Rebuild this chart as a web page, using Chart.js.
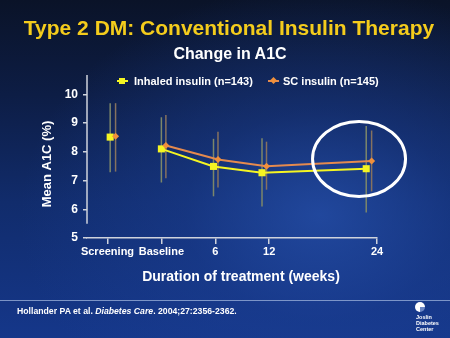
<!DOCTYPE html>
<html>
<head>
<meta charset="utf-8">
<script src="https://cdn.jsdelivr.net/npm/chart.js@4.4.1/dist/chart.umd.min.js"></script>
<style>
html,body{margin:0;padding:0}
body{
width:450px;height:338px;overflow:hidden;position:relative;
font-family:"Liberation Sans",Arial,sans-serif;font-weight:bold;color:#fff;
background:
radial-gradient(ellipse 300px 230px at 320px 215px,rgba(38,80,172,0.75) 0%,rgba(28,64,150,0.45) 45%,rgba(20,50,120,0) 100%),
linear-gradient(180deg,#0a1328 0%,#0d1d45 28%,#112c6c 60%,#15378a 100%);
}
#chart{position:absolute;left:0;top:0}
.txt{position:absolute;white-space:nowrap}
#title{left:0;width:458px;text-align:center;top:17px;font-size:21px;line-height:21px;color:#f4cc1c}
#subtitle{left:0;width:460px;text-align:center;top:46px;font-size:16px;line-height:16px}
.leg{top:76px;font-size:11px;line-height:11px}
.legLine{position:absolute;height:2px;width:11px}
.legMark{position:absolute}
#xTitle{left:16px;width:450px;text-align:center;top:269px;font-size:14px;line-height:14px}
#rule{position:absolute;left:0;top:300px;width:450px;height:1px;background:rgba(150,172,215,0.8)}
#ref{left:17px;top:307px;font-size:8.7px;line-height:9px}
#logo{position:absolute;left:415px;top:302px;width:10px;height:10px;border-radius:50%;
background:conic-gradient(from 90deg,#6b86c4 0deg 90deg,#fff 90deg 360deg)}
.logoTxt{left:416px;font-size:5.5px;line-height:5.5px}
</style>
</head>
<body>

<canvas id="chart" width="450" height="338"></canvas>

<div class="txt" id="title">Type 2 DM: Conventional Insulin Therapy</div>
<div class="txt" id="subtitle">Change in A1C</div>

<div class="legLine" style="left:117px;top:80px;background:#f5f522"></div>
<div class="legMark" style="left:119px;top:78px;width:6px;height:6px;background:#f5f522"></div>
<div class="txt leg" style="left:134px">Inhaled insulin (n=143)</div>

<div class="legLine" style="left:268px;top:80px;background:#e58a4e"></div>
<div class="legMark" style="left:271px;top:78px;width:5px;height:5px;background:#f0903c;transform:rotate(45deg)"></div>
<div class="txt leg" style="left:283px">SC insulin (n=145)</div>

<div class="txt" id="xTitle">Duration of treatment (weeks)</div>

<div id="rule"></div>
<div class="txt" id="ref">Hollander PA et al. <i>Diabetes Care</i>. 2004;27:2356-2362.</div>
<div id="logo"></div>
<div class="txt logoTxt" style="top:315px">Joslin</div>
<div class="txt logoTxt" style="top:321px">Diabetes</div>
<div class="txt logoTxt" style="top:327px">Center</div>

<script>

// x axis: weeks of treatment, screening sits 6 weeks before baseline
const tickWeeks = [-6, 0, 6, 12, 24]
const tickLabels = ["Screening", "Baseline", "6", "12", "24"]
const yTicks = [5, 6, 7, 8, 9, 10]

// inhaled insulin group: where each mean sits, mean A1C and the bar ends
const inhaledWeeks = [-5.7, 0, 5.8, 11.2, 22.8]
const inhaledMean = [8.51, 8.10, 7.49, 7.27, 7.41]
const inhaledHigh = [9.69, 9.20, 8.45, 8.47, 8.90]
const inhaledLow = [7.29, 6.93, 6.45, 6.10, 5.89]

// subcutaneous insulin group
const scWeeks = [-5.1, 0.5, 6.3, 11.7, 23.4]
const scMean = [8.54, 8.22, 7.73, 7.50, 7.68]
const scHigh = [9.69, 9.28, 8.70, 8.35, 8.74]
const scLow = [7.31, 7.08, 6.76, 6.68, 6.62]

const font = "'Liberation Sans', Arial, sans-serif"
const axisColor = "#cfd3dc"
const yTitle = "Mean A1C (%)"

// highlight ring around week 24
const ring = {week: 22, value: 7.75, rx: 46.5, ry: 37.5}

// the y axis line stops short of the x axis
const yLineEnd = 5.5


function points(xs, ys){
return xs.map((x, i) => ({x: x, y: ys[i]}))
}


const errorBars = {
id: "errorBars",
beforeDatasetsDraw(chart){
const ctx = chart.ctx
const xs = chart.scales.x
const ys = chart.scales.y
chart.data.datasets.forEach(ds => {
ctx.save()
ctx.strokeStyle = ds.errorColor
ctx.lineWidth = 1.5
ds.data.forEach((p, i) => {
const px = xs.getPixelForValue(p.x)
ctx.beginPath()
ctx.moveTo(px, ys.getPixelForValue(ds.high[i]))
ctx.lineTo(px, ys.getPixelForValue(ds.low[i]))
ctx.stroke()
})
ctx.restore()
})
}
}

const extras = {
id: "extras",
afterDraw(chart){
const ctx = chart.ctx
const xs = chart.scales.x
const ys = chart.scales.y
const area = chart.chartArea

ctx.save()
ctx.strokeStyle = axisColor
ctx.lineWidth = 1.5
ctx.beginPath()
ctx.moveTo(area.left, ys.getPixelForValue(ys.max))
ctx.lineTo(area.left, ys.getPixelForValue(yLineEnd))
ctx.stroke()

ctx.strokeStyle = "#ffffff"
ctx.lineWidth = 3
ctx.beginPath()
ctx.ellipse(xs.getPixelForValue(ring.week), ys.getPixelForValue(ring.value), ring.rx, ring.ry, 0, 0, Math.PI * 2)
ctx.stroke()

// y axis title, set a little below the middle of the axis
ctx.translate(51, 164)
ctx.rotate(-Math.PI / 2)
ctx.fillStyle = "#ffffff"
ctx.font = "bold 13px " + font
ctx.textAlign = "center"
ctx.textBaseline = "alphabetic"
ctx.fillText(yTitle, 0, 0)
ctx.restore()
}
}

// no line between screening and baseline
const skipFirst = c => c.p0DataIndex === 0 ? "rgba(0,0,0,0)" : undefined


new Chart(document.getElementById("chart"), {

type: "line",

data: {
datasets: [
{
label: "Inhaled insulin (n=143)",
data: points(inhaledWeeks, inhaledMean),
high: inhaledHigh,
low: inhaledLow,
errorColor: "#7c876a",
borderColor: "#f5f522",
backgroundColor: "#f5f522",
borderWidth: 2,
pointStyle: "rect",
pointRadius: 5,
pointBorderWidth: 0,
segment: {borderColor: skipFirst},
order: 1
},
{
label: "SC insulin (n=145)",
data: points(scWeeks, scMean),
high: scHigh,
low: scLow,
errorColor: "#86725f",
borderColor: "#e58a4e",
backgroundColor: "#f0903c",
borderWidth: 2,
pointStyle: "rectRot",
pointRadius: 3.5,
pointBorderWidth: 0,
segment: {borderColor: skipFirst},
order: 0
}
]
},

options: {
responsive: false,
animation: false,
devicePixelRatio: 1,
layout: {padding: {left: 0, top: 75, right: 73, bottom: 0}},
plugins: {
legend: {display: false},
tooltip: {enabled: false}
},
scales: {
x: {
type: "linear",
min: -8.28,
max: 24,
afterBuildTicks: s => { s.ticks = tickWeeks.map(v => ({value: v})) },
afterFit: s => { s.height = 100 },
ticks: {
color: "#ffffff",
font: {family: font, size: 11, weight: "bold"},
padding: 1,
maxRotation: 0,
autoSkip: false,
callback: (v, i) => tickLabels[i]
},
grid: {drawOnChartArea: false, color: axisColor, lineWidth: 1.5, tickLength: 6},
border: {color: axisColor, width: 1.5}
},
y: {
min: 5,
max: 10.67,
afterBuildTicks: s => { s.ticks = yTicks.map(v => ({value: v})) },
afterFit: s => { s.width = 87 },
ticks: {
color: "#ffffff",
font: {family: font, size: 12, weight: "bold"},
padding: 5
},
grid: {drawOnChartArea: false, color: axisColor, lineWidth: 1.5, tickLength: 4},
border: {display: false}
}
}
},

plugins: [errorBars, extras]

})

</script>
</body>
</html>
